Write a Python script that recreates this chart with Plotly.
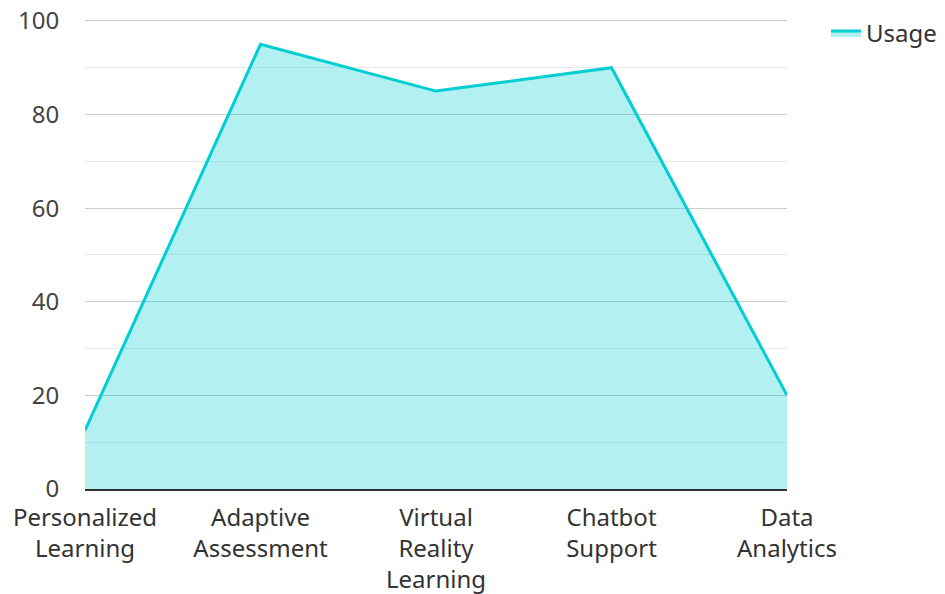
import plotly.graph_objects as go

categories = ["Personalized<br>Learning", "Adaptive<br>Assessment", "Virtual<br>Reality<br>Learning", "Chatbot<br>Support", "Data<br>Analytics"]
usage = [12.5, 95, 85, 90, 20]
series_name = "Usage"

fig = go.Figure()
fig.add_trace(go.Scatter(
    x=categories, y=usage, name=series_name, mode="lines",
    line=dict(color="#00CED1", width=3),
    fill="tozeroy", fillcolor="rgba(0,206,209,0.3)",
))
fig.update_layout(
    width=929, height=586,
    margin=dict(l=77, r=150, t=11, b=105),
    paper_bgcolor="white", plot_bgcolor="white",
    font=dict(family="Noto Sans", size=24, color="#444"),
    showlegend=True,
    legend=dict(xref="container", yref="container", x=0.8805, y=0.995,
                xanchor="left", yanchor="top", font=dict(size=24, color="#333")),
    xaxis=dict(showgrid=False, showline=True, linecolor="#333", linewidth=2, automargin=False,
               tickfont=dict(size=24, color="#333"), range=[0, 4],
               ticks="outside", ticklen=6, tickcolor="rgba(0,0,0,0)"),
    yaxis=dict(range=[0, 100.4], tick0=0, dtick=20, gridcolor="#ccc", gridwidth=1, automargin=False,
               zeroline=False, showline=False, tickfont=dict(size=24, color="#444"),
               ticklabeloverflow="allow",
               ticks="outside", ticklen=20, tickcolor="rgba(0,0,0,0)",
               minor=dict(dtick=10, showgrid=True, gridcolor="#e8e8e8", gridwidth=1)),
)
fig.write_html("out.html")
